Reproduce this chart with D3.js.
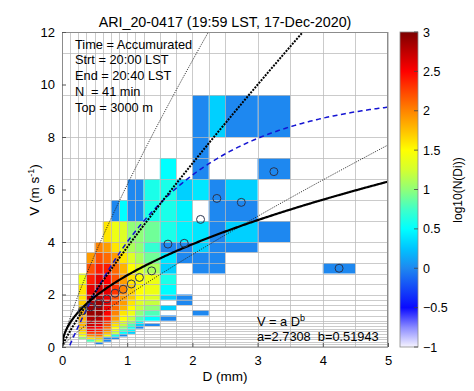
<!DOCTYPE html>
<html>
<head>
<meta charset="utf-8">
<script src="https://cdn.jsdelivr.net/npm/d3@7"></script>
<style>
  body { margin: 0; background: #fff; }
  text { font-family: "Liberation Sans", Arial, sans-serif; fill: #000; }
</style>
</head>
<body>
<svg id="chart" width="474" height="391"></svg>
<script>
// Parsivel bin edges (mm, m/s)
const dEdges = [0, 0.125, 0.25, 0.375, 0.5, 0.625, 0.75, 0.875, 1.0, 1.125, 1.25,
  1.5, 1.75, 2.0, 2.25, 2.5, 3.0, 3.5, 4.0, 4.5, 5.0];
const vEdges = [0, 0.1, 0.2, 0.3, 0.4, 0.5, 0.6, 0.7, 0.8, 0.9, 1.0,
  1.2, 1.4, 1.6, 1.8, 2.0, 2.4, 2.8, 3.2, 3.6, 4.0, 4.8, 5.6, 6.4, 7.2, 8.0, 9.6];
const gridV = vEdges.concat([11.2]);

// log10(N) per cell, one row per velocity bin (bottom -> top), one column per diameter bin
const _ = null;
const logN = [
  [_, _, _,   _,   _,   _,   _,   _,   _,   _,   _,   _,   _,    _,   _, _,   _, _, _, _],
  [_, _, _,   _,   0,   _,   _,   _,   _,   _,   _,   _,   _,    _,   _, _,   _, _, _, _],
  [_, _, _,   0.8, 1.3, 0,   _,   _,   _,   _,   _,   _,   _,    _,   _, _,   _, _, _, _],
  [_, _, 1.0, 1.6, 1.7, 0,   0,   _,   _,   _,   _,   _,   _,    _,   _, _,   _, _, _, _],
  [_, _, 1.4, 2.0, 2.1, 1.5, 0.6, 0,   _,   _,   _,   _,   _,    _,   _, _,   _, _, _, _],
  [_, _, 1.6, 2.3, 2.3, 1.8, 1.2, 0.5, 0.3, _,   _,   _,   _,    _,   _, _,   _, _, _, _],
  [_, _, 1.7, 2.5, 2.4, 2.0, 1.4, 0.8, 0.5, _,   _,   _,   _,    _,   _, _,   _, _, _, _],
  [_, _, 1.8, 2.6, 2.5, 2.1, 1.5, 1.0, 0.6, 0,   _,   _,   _,    _,   _, _,   _, _, _, _],
  [_, _, 1.8, 2.7, 2.6, 2.2, 1.6, 1.2, 0.8, 0.3, 0,   _,   _,    _,   _, _,   _, _, _, _],
  [_, _, 1.8, 2.7, 2.7, 2.3, 1.7, 1.3, 1.0, 0.5, _,   _,   _,    _,   _, _,   _, _, _, _],
  [_, _, 1.8, 2.8, 2.8, 2.4, 1.9, 1.5, 1.2, 0.8, 0.5, 0,   _,    _,   _, _,   _, _, _, _],
  [_, _, 1.8, 2.9, 2.9, 2.5, 2.0, 1.6, 1.4, 1.0, 0.8, _,   _,    0,   _, _,   _, _, _, _],
  [_, _, 1.7, 2.9, 2.9, 2.6, 2.1, 1.8, 1.5, 1.2, 1.0, 0.3, _,    _,   _, _,   _, _, _, _],
  [_, _, 1.7, 2.8, 2.9, 2.6, 2.2, 1.9, 1.6, 1.3, 1.2, _,   0,    _,   _, _,   _, _, _, _],
  [_, _, 1.6, 2.7, 2.8, 2.6, 2.2, 1.9, 1.7, 1.5, 1.3, 0.3, 0,    _,   _, _,   _, _, _, _],
  [_, _, 1.6, 2.6, 2.7, 2.6, 2.3, 2.0, 1.7, 1.5, 1.4, 0.5, _,    _,   _, _,   _, _, _, _],
  [_, _, 1.4, 2.4, 2.6, 2.5, 2.2, 1.9, 1.6, 1.5, 1.4, 0.6, _,    _,   _, _,   _, _, _, _],
  [_, _, _,   2.2, 2.4, 2.4, 2.1, 1.8, 1.5, 1.3, 1.1, 0.3, _,    0,   0, _,   _, _, 0, _],
  [_, _, _,   1.9, 2.2, 2.1, 1.9, 1.6, 1.3, 1.1, 0.9, 0.4, 0,    0,   0, _,   _, _, _, _],
  [_, _, _,   _,   2.0, 1.9, 1.6, 1.3, 1.1, 1.0, 0.7, 0,   0,    0.3, 0, 0,   _, _, _, _],
  [_, _, _,   _,   _,   1.6, 1.4, 1.3, 1.0, 1.0, 0.9, 0.6, 0.45, 0.4, 0, 0.3, 0, _, _, _],
  [_, _, _,   _,   _,   _,   0,   0.5, 0,   0,   0.6, 0.6, 0.45, _,   0, 0,   _, _, _, _],
  [_, _, _,   _,   _,   _,   _,   _,   0,   0,   0.6, 0.6, 0.3,  0.4, 0, 0.3, _, _, _, _],
  [_, _, _,   _,   _,   _,   _,   _,   _,   _,   _,   0.5, _,    0,   _, _,   0, _, _, _],
  [_, _, _,   _,   _,   _,   _,   _,   _,   _,   _,   _,   _,    0,   _, _,   _, _, _, _],
  [_, _, _,   _,   _,   _,   _,   _,   _,   _,   _,   _,   _,    0,   0.3, 0, 0, _, _, _]
];

// mean fall speed per diameter bin
const meanD = [0.3125, 0.4375, 0.5625, 0.6875, 0.8125, 0.9375, 1.0625, 1.1875, 1.375,
  1.625, 1.875, 2.125, 2.375, 2.75, 3.25, 4.25];
const meanV = [1.38, 1.53, 1.66, 1.83, 2.05, 2.2, 2.4, 2.65, 2.9,
  3.92, 3.95, 4.86, 5.66, 5.51, 6.68, 3.0];

// curves V = a D^b
const fitA = 2.7308, fitB = 0.51943;
const refA = 3.8, refB = 0.88;       // thick dotted
const upA = 6.18, upB = 0.82;        // thin dotted upper
const loA = 1.95, loB = 0.853;       // thin dotted lower
// Atlas et al. rain: V = 9.65 - 10.3 exp(-0.6 D)
const atlas = [9.65, 10.3, 0.6];

const infoLines = ["Time = Accumurated", "Strt = 20:00 LST", "End = 20:40 LST", "N", "Top = 3000 m"];
const xTicks = [0, 1, 2, 3, 4, 5];
const yTicks = [0, 2, 4, 6, 8, 10, 12];
const cbTicks = [-1, -0.5, 0, 0.5, 1, 1.5, 2, 2.5, 3];

const cStops = [-1, -0.75, -0.5, 0, 0.25, 0.5, 0.75, 1, 1.25, 1.5, 1.75, 2, 2.25, 2.5, 2.75, 3];
const cCols = ["#f6f4ff", "#8a8aff", "#0a0aff", "#1e88f0", "#00c4ff", "#00ffff", "#40ffc8",
  "#90ff78", "#d4ff30", "#ffff00", "#ffc000", "#ff8400", "#ff4400", "#ff0000", "#c00000", "#7c0000"];

const svg = d3.select("#chart");
const x = d3.scaleLinear().domain([0, 5]).range([62, 388]);
const y = d3.scaleLinear().domain([0, 12]).range([347, 32]);
const color = d3.scaleLinear().domain(cStops).range(cCols).clamp(true);

svg.append("defs").append("clipPath").attr("id", "plotclip")
  .append("rect").attr("x", 62).attr("y", 32).attr("width", 326).attr("height", 315);

// cells
const cells = [];
logN.forEach((row, j) => row.forEach((v, i) => {
  if (v !== null) cells.push({ i, j, v });
}));
svg.append("g").selectAll("rect").data(cells).enter().append("rect")
  .attr("x", (d) => x(dEdges[d.i]))
  .attr("y", (d) => y(vEdges[d.j + 1]))
  .attr("width", (d) => x(dEdges[d.i + 1]) - x(dEdges[d.i]))
  .attr("height", (d) => y(vEdges[d.j]) - y(vEdges[d.j + 1]))
  .attr("fill", (d) => color(d.v));

// bin grid
const grid = svg.append("g").attr("stroke", "rgba(185,185,185,0.75)").attr("stroke-width", 1);
grid.selectAll(".gx").data(dEdges).enter().append("line")
  .attr("x1", (d) => Math.round(x(d)) + 0.5).attr("x2", (d) => Math.round(x(d)) + 0.5)
  .attr("y1", 32).attr("y2", 347);
grid.selectAll(".gy").data(gridV).enter().append("line")
  .attr("y1", (d) => Math.round(y(d)) + 0.5).attr("y2", (d) => Math.round(y(d)) + 0.5)
  .attr("x1", 62).attr("x2", 388);

// curves
const dSamples = d3.range(0, 5.0001, 0.02);
const line = d3.line().x((p) => x(p[0])).y((p) => y(p[1]));
const curves = svg.append("g").attr("clip-path", "url(#plotclip)").attr("fill", "none");

function powerPts(a, b) {
  return dSamples.map((d) => [d, a * Math.pow(d, b)]).filter((p) => p[1] <= 13);
}
const atlasPts = dSamples.map((d) => [d, atlas[0] - atlas[1] * Math.exp(-atlas[2] * d)])
  .filter((p) => p[1] >= 0);

curves.append("path").attr("d", line(powerPts(upA, upB)))
  .attr("stroke", "#222").attr("stroke-width", 0.9).attr("stroke-dasharray", "1.2,1.2");
curves.append("path").attr("d", line(powerPts(loA, loB)))
  .attr("stroke", "#222").attr("stroke-width", 0.9).attr("stroke-dasharray", "1.2,1.2");
curves.append("path").attr("d", line(atlasPts))
  .attr("stroke", "#1414d2").attr("stroke-width", 1.5).attr("stroke-dasharray", "5,3.5");
curves.append("path").attr("d", line(powerPts(refA, refB)))
  .attr("stroke", "#000").attr("stroke-width", 2).attr("stroke-dasharray", "2,1.2");
curves.append("path").attr("d", line(powerPts(fitA, fitB)))
  .attr("stroke", "#000").attr("stroke-width", 2.2);

// mean velocity circles
svg.append("g").selectAll("circle").data(meanD).enter().append("circle")
  .attr("cx", (d) => x(d))
  .attr("cy", (d, k) => y(meanV[k]))
  .attr("r", 4)
  .attr("fill", "none")
  .attr("stroke", "#2b3550")
  .attr("stroke-width", 1);

// frame
svg.append("rect").attr("x", 62.5).attr("y", 32.5).attr("width", 325).attr("height", 314.5)
  .attr("fill", "none").attr("stroke", "#8c8c8c").attr("stroke-width", 1);

// axes
const xAxis = svg.append("g").attr("transform", "translate(0,347)")
  .call(d3.axisBottom(x).tickValues(xTicks).tickSize(-4).tickPadding(9).tickFormat(d3.format("d")));
const yAxis = svg.append("g").attr("transform", "translate(62,0)")
  .call(d3.axisLeft(y).tickValues(yTicks).tickSize(-4).tickPadding(7).tickFormat(d3.format("d")));
[xAxis, yAxis].forEach((g) => {
  g.select(".domain").remove();
  g.selectAll(".tick line").attr("stroke", "#555");
  g.selectAll("text").attr("font-size", 13).attr("font-family", "Liberation Sans, Arial, sans-serif");
});

// titles
svg.append("text").attr("x", 225).attr("y", 27).attr("text-anchor", "middle")
  .attr("font-size", 14.3).text("ARI_20-0417 (19:59 LST, 17-Dec-2020)");
svg.append("text").attr("x", 225).attr("y", 381).attr("text-anchor", "middle")
  .attr("font-size", 13.5).text("D (mm)");
const yl = svg.append("text").attr("transform", "translate(39,190) rotate(-90)")
  .attr("text-anchor", "middle").attr("font-size", 13.5);
yl.append("tspan").text("V (m s");
yl.append("tspan").attr("dy", -5).attr("font-size", 9).text("-1");
yl.append("tspan").attr("dy", 5).text(")");

// info block
const info = svg.append("g").attr("font-size", 12.8);
infoLines.forEach((t, k) => {
  info.append("text").attr("x", 75).attr("y", 48.5 + k * 15.8).text(t);
});
info.append("text").attr("x", 91).attr("y", 48.5 + 3 * 15.8).text("= 41 min");

// fit text
const ft = svg.append("text").attr("x", 257).attr("y", 326).attr("font-size", 12.8);
ft.append("tspan").text("V = a D");
ft.append("tspan").attr("dy", -5).attr("font-size", 9).text("b");
svg.append("text").attr("x", 257).attr("y", 341).attr("font-size", 12.8)
  .attr("xml:space", "preserve").style("white-space", "pre").text("a=" + fitA + "  b=" + fitB);

// colorbar
const cy = d3.scaleLinear().domain([-1, 3]).range([347, 32]);
const grad = svg.select("defs").append("linearGradient").attr("id", "cbgrad")
  .attr("x1", 0).attr("y1", 1).attr("x2", 0).attr("y2", 0);
cStops.forEach((s, k) => {
  grad.append("stop").attr("offset", (s + 1) / 4).attr("stop-color", cCols[k]);
});
svg.append("rect").attr("x", 400).attr("y", 32).attr("width", 18).attr("height", 315)
  .attr("fill", "url(#cbgrad)").attr("stroke", "#8c8c8c").attr("stroke-width", 0.8);
const cb = svg.append("g");
cb.selectAll("line").data(cbTicks).enter().append("line")
  .attr("x1", 414).attr("x2", 418)
  .attr("y1", (d) => cy(d)).attr("y2", (d) => cy(d))
  .attr("stroke", "#444").attr("stroke-width", 0.8);
cb.selectAll("text").data(cbTicks).enter().append("text")
  .attr("x", 423).attr("y", (d) => cy(d) + 4.5)
  .attr("font-size", 12.5)
  .text((d) => (d < 0 ? "\u2212" + Math.abs(d) : String(d)));
svg.append("text").attr("transform", "translate(462,190) rotate(-90)")
  .attr("text-anchor", "middle").attr("font-size", 12).text("log10(N(Di))");
</script>
</body>
</html>
